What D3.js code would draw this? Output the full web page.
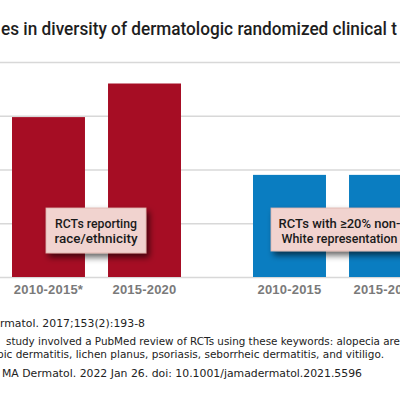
<!DOCTYPE html>
<html>
<head>
<meta charset="utf-8">
<script src="https://cdn.jsdelivr.net/npm/d3@7"></script>
<style>
  html, body { margin: 0; padding: 0; background: #fff; }
  svg { display: block; }
</style>
</head>
<body>
<script>
var width = 400;
var height = 400;

// data (y in percent, axis labels are cropped away)
var groups = ["race", "nonwhite"];
var racePeriods = ["2010-2015*", "2015-2020"];
var nonWhitePeriods = ["2010-2015", "2015-2020"];
var raceValues = [59.5, 72];
var nonWhiteValues = [38, 38];
var yTicks = [0, 20, 40, 60, 80];
var groupColors = ["#a60d24", "#0a7dc1"];
var boxLabels = [["RCTs reporting", "race/ethnicity"], ["RCTs with \u226520% non-", "White representation"]];
var footLines = [
  "rmatol. 2017;153(2):193-8",
  "study involved a PubMed review of RCTs using these keywords: alopecia are",
  "pic dermatitis, lichen planus, psoriasis, seborrheic dermatitis, and vitiligo.",
  "MA Dermatol. 2022 Jan 26. doi: 10.1001/jamadermatol.2021.5596"
];

var series = [
  { key: groups[0], periods: racePeriods, values: raceValues, color: groupColors[0] },
  { key: groups[1], periods: nonWhitePeriods, values: nonWhiteValues, color: groupColors[1] }
];

var svg = d3.select("body").append("svg")
  .attr("width", width).attr("height", height);

var defs = svg.append("defs");
var shadow = defs.append("filter").attr("id", "shadow")
  .attr("x", "-20%").attr("y", "-20%").attr("width", "150%").attr("height", "160%");
shadow.append("feDropShadow")
  .attr("dx", 3).attr("dy", 4).attr("stdDeviation", 3)
  .attr("flood-color", "#000").attr("flood-opacity", 0.6);

// no narrow font installed, so squeeze Roboto with textLength
var condensed = "Roboto, 'Liberation Sans', sans-serif";

// title (cropped on both sides in the reference)
svg.append("text")
  .attr("x", 1).attr("y", 35)
  .attr("textLength", 396).attr("lengthAdjust", "spacingAndGlyphs")
  .style("font-family", condensed)
  .style("font-size", "18px")
  .style("font-weight", 500)
  .style("fill", "#1e1e1e")
  .text("es in diversity of dermatologic randomized clinical t");

// scales
var y = d3.scaleLinear().domain([0, 80]).range([277, 62]);

var x0 = d3.scaleBand().domain(groups)
  .range([12, 422]).paddingInner(0.2988).paddingOuter(0);

var x1 = d3.scaleBand().domain([0, 1])
  .range([0, x0.bandwidth()]).paddingInner(0.24).paddingOuter(0);

// gridlines
var grid = svg.append("g")
  .call(d3.axisLeft(y).tickValues(yTicks).tickSize(-width).tickFormat(""));
grid.select(".domain").remove();
grid.selectAll(".tick line").attr("stroke", "#d8d8d8").attr("stroke-width", 1.5);

// bars
var groupSel = svg.selectAll("g.group").data(series).enter().append("g")
  .attr("class", "group")
  .attr("transform", function (d) { return "translate(" + x0(d.key) + ",0)"; });

groupSel.selectAll("rect").data(function (d) {
  return d.values.map(function (v, i) { return { i: i, v: v, color: d.color }; });
}).enter().append("rect")
  .attr("x", function (d) { return x1(d.i); })
  .attr("y", function (d) { return y(d.v); })
  .attr("width", x1.bandwidth())
  .attr("height", function (d) { return y(0) - y(d.v); })
  .attr("fill", function (d) { return d.color; });

// period labels under bars
groupSel.selectAll("text.period").data(function (d) {
  return d.periods.map(function (p, i) { return { i: i, p: p }; });
}).enter().append("text")
  .attr("class", "period")
  .attr("x", function (d) { return x1(d.i) + x1.bandwidth() / 2; })
  .attr("y", 294)
  .attr("text-anchor", "middle")
  .style("font-family", "'Liberation Sans', Arial, sans-serif")
  .style("font-size", "13px")
  .style("font-weight", "bold")
  .style("letter-spacing", "0.2px")
  .style("fill", "#7a7a7a")
  .text(function (d) { return d.p; });

// pink label boxes over the bars
var boxes = [
  { x: 46, y: 208, w: 100, h: 45, lines: boxLabels[0], widths: [82, 83] },
  { x: 271, y: 208, w: 137, h: 43, lines: boxLabels[1], widths: [122, 116] }
];

var boxSel = svg.selectAll("g.box").data(boxes).enter().append("g").attr("class", "box");
boxSel.append("rect")
  .attr("x", function (d) { return d.x; })
  .attr("y", function (d) { return d.y; })
  .attr("width", function (d) { return d.w; })
  .attr("height", function (d) { return d.h; })
  .attr("fill", "#f1d3cf")
  .attr("stroke", "#dcb3ad")
  .attr("stroke-width", 0.8)
  .attr("filter", "url(#shadow)");

boxSel.each(function (d) {
  var g = d3.select(this);
  d.lines.forEach(function (line, i) {
    g.append("text")
      .attr("x", d.x + d.w / 2 - d.widths[i] / 2)
      .attr("y", d.y + 20 + i * 15)
      .attr("textLength", d.widths[i])
      .attr("lengthAdjust", "spacingAndGlyphs")
      .style("font-family", condensed)
      .style("font-size", "13.5px")
      .style("font-weight", 500)
      .style("fill", "#1a1a1a")
      .text(line);
  });
});

// source notes (cropped at the left)
var footX = [0, 6, -3, 2];
var footY = [327, 345, 358, 377];
var footW = [145, 394, 387, 360];
svg.selectAll("text.foot").data(footLines).enter().append("text")
  .attr("class", "foot")
  .attr("x", function (d, i) { return footX[i]; })
  .attr("y", function (d, i) { return footY[i]; })
  .attr("textLength", function (d, i) { return footW[i]; })
  .attr("lengthAdjust", "spacingAndGlyphs")
  .style("font-family", "'DejaVu Sans', Verdana, sans-serif")
  .style("font-size", "10.5px")
  .style("fill", "#222")
  .text(function (d) { return d; });
</script>
</body>
</html>
